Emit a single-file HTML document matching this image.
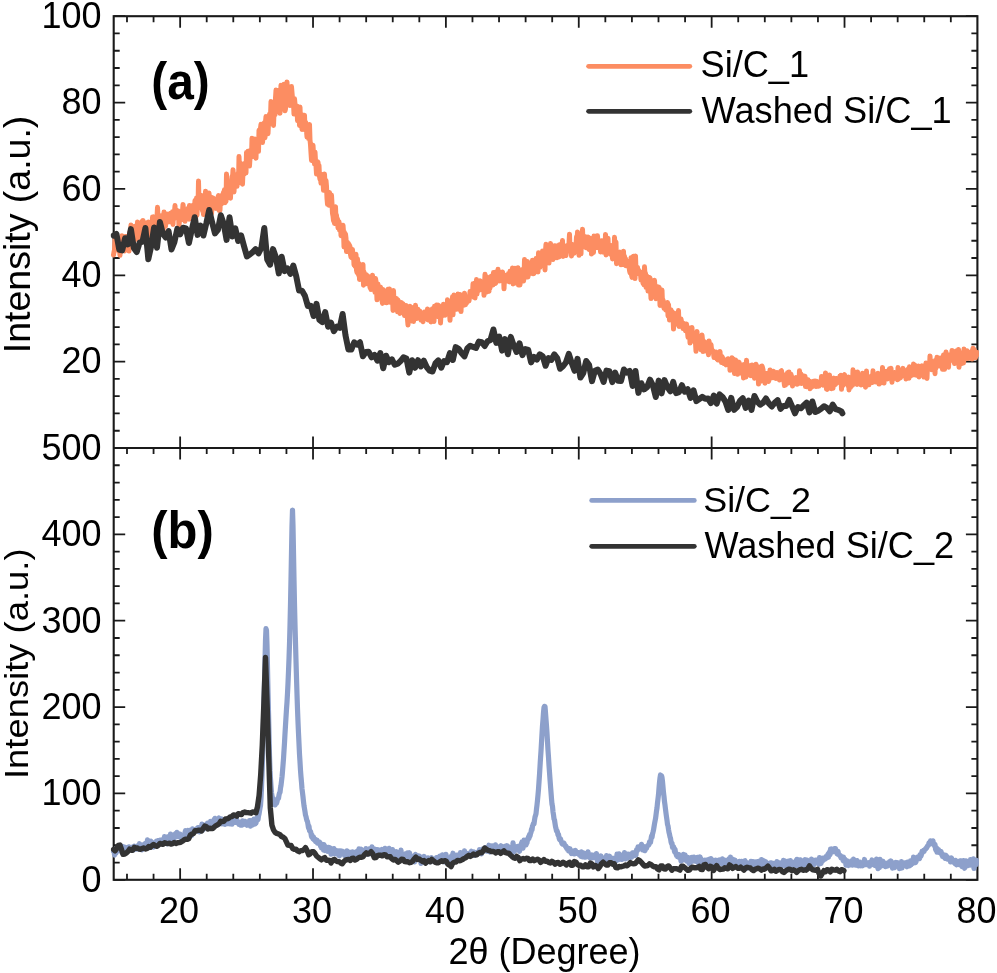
<!DOCTYPE html>
<html lang="en"><head><meta charset="utf-8"><title>XRD patterns of Si/C composites</title>
<style>html,body{margin:0;padding:0;background:#fff;overflow:hidden}svg{display:block}text{font-family:"Liberation Sans",Arial,Helvetica,sans-serif;fill:#000}</style></head><body>
<svg width="997" height="973" viewBox="0 0 997 973">
<rect width="997" height="973" fill="#fff"/>
<defs><clipPath id="c1"><rect x="110.7" y="16.2" width="868.1999999999999" height="431.8"/></clipPath><clipPath id="c2"><rect x="110.7" y="448.0" width="868.1999999999999" height="431.79999999999995"/></clipPath></defs>
<g id="axes" stroke="#1a1a1a" stroke-width="2.1" fill="none" stroke-linecap="butt">
<rect x="113.7" y="16.2" width="863.6999999999999" height="863.5999999999999"/>
<line x1="113.7" y1="448.0" x2="977.4" y2="448.0"/>
<path stroke-width="1.8" d="M126.99 16.20L126.99 22.20 M126.99 879.80L126.99 873.80 M126.99 448.00L126.99 454.00 M153.56 16.20L153.56 22.20 M153.56 879.80L153.56 873.80 M153.56 448.00L153.56 454.00 M180.14 16.20L180.14 27.70 M180.14 879.80L180.14 868.30 M180.14 448.00L180.14 459.50 M180.14 448.00L180.14 436.50 M206.71 16.20L206.71 22.20 M206.71 879.80L206.71 873.80 M206.71 448.00L206.71 454.00 M233.29 16.20L233.29 22.20 M233.29 879.80L233.29 873.80 M233.29 448.00L233.29 454.00 M259.86 16.20L259.86 22.20 M259.86 879.80L259.86 873.80 M259.86 448.00L259.86 454.00 M286.44 16.20L286.44 22.20 M286.44 879.80L286.44 873.80 M286.44 448.00L286.44 454.00 M313.02 16.20L313.02 27.70 M313.02 879.80L313.02 868.30 M313.02 448.00L313.02 459.50 M313.02 448.00L313.02 436.50 M339.59 16.20L339.59 22.20 M339.59 879.80L339.59 873.80 M339.59 448.00L339.59 454.00 M366.17 16.20L366.17 22.20 M366.17 879.80L366.17 873.80 M366.17 448.00L366.17 454.00 M392.74 16.20L392.74 22.20 M392.74 879.80L392.74 873.80 M392.74 448.00L392.74 454.00 M419.32 16.20L419.32 22.20 M419.32 879.80L419.32 873.80 M419.32 448.00L419.32 454.00 M445.89 16.20L445.89 27.70 M445.89 879.80L445.89 868.30 M445.89 448.00L445.89 459.50 M445.89 448.00L445.89 436.50 M472.47 16.20L472.47 22.20 M472.47 879.80L472.47 873.80 M472.47 448.00L472.47 454.00 M499.04 16.20L499.04 22.20 M499.04 879.80L499.04 873.80 M499.04 448.00L499.04 454.00 M525.62 16.20L525.62 22.20 M525.62 879.80L525.62 873.80 M525.62 448.00L525.62 454.00 M552.19 16.20L552.19 22.20 M552.19 879.80L552.19 873.80 M552.19 448.00L552.19 454.00 M578.77 16.20L578.77 27.70 M578.77 879.80L578.77 868.30 M578.77 448.00L578.77 459.50 M578.77 448.00L578.77 436.50 M605.34 16.20L605.34 22.20 M605.34 879.80L605.34 873.80 M605.34 448.00L605.34 454.00 M631.92 16.20L631.92 22.20 M631.92 879.80L631.92 873.80 M631.92 448.00L631.92 454.00 M658.50 16.20L658.50 22.20 M658.50 879.80L658.50 873.80 M658.50 448.00L658.50 454.00 M685.07 16.20L685.07 22.20 M685.07 879.80L685.07 873.80 M685.07 448.00L685.07 454.00 M711.65 16.20L711.65 27.70 M711.65 879.80L711.65 868.30 M711.65 448.00L711.65 459.50 M711.65 448.00L711.65 436.50 M738.22 16.20L738.22 22.20 M738.22 879.80L738.22 873.80 M738.22 448.00L738.22 454.00 M764.80 16.20L764.80 22.20 M764.80 879.80L764.80 873.80 M764.80 448.00L764.80 454.00 M791.37 16.20L791.37 22.20 M791.37 879.80L791.37 873.80 M791.37 448.00L791.37 454.00 M817.95 16.20L817.95 22.20 M817.95 879.80L817.95 873.80 M817.95 448.00L817.95 454.00 M844.52 16.20L844.52 27.70 M844.52 879.80L844.52 868.30 M844.52 448.00L844.52 459.50 M844.52 448.00L844.52 436.50 M871.10 16.20L871.10 22.20 M871.10 879.80L871.10 873.80 M871.10 448.00L871.10 454.00 M897.67 16.20L897.67 22.20 M897.67 879.80L897.67 873.80 M897.67 448.00L897.67 454.00 M924.25 16.20L924.25 22.20 M924.25 879.80L924.25 873.80 M924.25 448.00L924.25 454.00 M950.82 16.20L950.82 22.20 M950.82 879.80L950.82 873.80 M950.82 448.00L950.82 454.00 M113.70 430.73L119.70 430.73 M977.40 430.73L971.40 430.73 M113.70 413.46L119.70 413.46 M977.40 413.46L971.40 413.46 M113.70 396.18L119.70 396.18 M977.40 396.18L971.40 396.18 M113.70 378.91L119.70 378.91 M977.40 378.91L971.40 378.91 M113.70 361.64L125.20 361.64 M977.40 361.64L965.90 361.64 M113.70 344.37L119.70 344.37 M977.40 344.37L971.40 344.37 M113.70 327.10L119.70 327.10 M977.40 327.10L971.40 327.10 M113.70 309.82L119.70 309.82 M977.40 309.82L971.40 309.82 M113.70 292.55L119.70 292.55 M977.40 292.55L971.40 292.55 M113.70 275.28L125.20 275.28 M977.40 275.28L965.90 275.28 M113.70 258.01L119.70 258.01 M977.40 258.01L971.40 258.01 M113.70 240.74L119.70 240.74 M977.40 240.74L971.40 240.74 M113.70 223.46L119.70 223.46 M977.40 223.46L971.40 223.46 M113.70 206.19L119.70 206.19 M977.40 206.19L971.40 206.19 M113.70 188.92L125.20 188.92 M977.40 188.92L965.90 188.92 M113.70 171.65L119.70 171.65 M977.40 171.65L971.40 171.65 M113.70 154.38L119.70 154.38 M977.40 154.38L971.40 154.38 M113.70 137.10L119.70 137.10 M977.40 137.10L971.40 137.10 M113.70 119.83L119.70 119.83 M977.40 119.83L971.40 119.83 M113.70 102.56L125.20 102.56 M977.40 102.56L965.90 102.56 M113.70 85.29L119.70 85.29 M977.40 85.29L971.40 85.29 M113.70 68.02L119.70 68.02 M977.40 68.02L971.40 68.02 M113.70 50.74L119.70 50.74 M977.40 50.74L971.40 50.74 M113.70 33.47L119.70 33.47 M977.40 33.47L971.40 33.47 M113.70 862.53L119.70 862.53 M977.40 862.53L971.40 862.53 M113.70 845.26L119.70 845.26 M977.40 845.26L971.40 845.26 M113.70 827.98L119.70 827.98 M977.40 827.98L971.40 827.98 M113.70 810.71L119.70 810.71 M977.40 810.71L971.40 810.71 M113.70 793.44L125.20 793.44 M977.40 793.44L965.90 793.44 M113.70 776.17L119.70 776.17 M977.40 776.17L971.40 776.17 M113.70 758.90L119.70 758.90 M977.40 758.90L971.40 758.90 M113.70 741.62L119.70 741.62 M977.40 741.62L971.40 741.62 M113.70 724.35L119.70 724.35 M977.40 724.35L971.40 724.35 M113.70 707.08L125.20 707.08 M977.40 707.08L965.90 707.08 M113.70 689.81L119.70 689.81 M977.40 689.81L971.40 689.81 M113.70 672.54L119.70 672.54 M977.40 672.54L971.40 672.54 M113.70 655.26L119.70 655.26 M977.40 655.26L971.40 655.26 M113.70 637.99L119.70 637.99 M977.40 637.99L971.40 637.99 M113.70 620.72L125.20 620.72 M977.40 620.72L965.90 620.72 M113.70 603.45L119.70 603.45 M977.40 603.45L971.40 603.45 M113.70 586.18L119.70 586.18 M977.40 586.18L971.40 586.18 M113.70 568.90L119.70 568.90 M977.40 568.90L971.40 568.90 M113.70 551.63L119.70 551.63 M977.40 551.63L971.40 551.63 M113.70 534.36L125.20 534.36 M977.40 534.36L965.90 534.36 M113.70 517.09L119.70 517.09 M977.40 517.09L971.40 517.09 M113.70 499.82L119.70 499.82 M977.40 499.82L971.40 499.82 M113.70 482.54L119.70 482.54 M977.40 482.54L971.40 482.54 M113.70 465.27L119.70 465.27 M977.40 465.27L971.40 465.27 M113.70 16.20L125.20 16.20 M977.40 16.20L965.90 16.20 M113.70 448.00L125.20 448.00 M977.40 448.00L965.90 448.00 M113.70 879.80L125.20 879.80 M977.40 879.80L965.90 879.80"/>
</g>
<g id="panel-a-curves">
<polyline points="113.5,255.0 114.0,252.1 114.5,249.9 115.0,238.6 115.5,247.1 116.0,246.3 116.5,247.5 117.0,244.2 117.5,247.1 118.0,244.3 118.5,239.3 119.0,251.3 119.5,250.9 120.0,255.3 120.5,245.6 121.0,242.8 121.5,241.6 122.0,235.7 122.5,249.6 123.0,237.5 123.5,236.7 124.0,241.9 124.5,251.1 125.0,243.8 125.5,236.4 126.0,237.8 126.5,245.0 127.0,240.3 127.5,236.5 128.0,239.3 128.5,244.5 129.0,251.1 129.5,232.6 130.0,235.8 130.5,234.5 131.0,225.0 131.5,233.2 132.0,232.3 132.5,244.2 133.0,236.7 133.5,228.0 134.0,240.6 134.5,234.6 135.0,226.3 135.5,232.6 136.0,232.3 136.5,230.4 137.0,235.2 137.5,221.9 138.0,232.9 138.5,240.0 139.0,238.8 139.5,239.9 140.0,239.7 140.5,241.5 141.0,226.2 141.5,237.2 142.0,221.4 142.5,228.3 143.0,220.4 143.5,237.2 144.0,238.5 144.5,229.4 145.0,240.4 145.5,226.0 146.0,230.4 146.5,230.1 147.0,222.7 147.5,231.1 148.0,239.4 148.5,221.9 149.0,232.7 149.5,226.3 150.0,237.1 150.5,229.3 151.0,230.1 151.5,229.6 152.0,227.0 152.5,217.1 153.0,233.0 153.5,216.7 154.0,225.7 154.5,227.6 155.0,218.9 155.5,224.4 156.0,230.1 156.5,222.9 157.0,217.6 157.5,207.3 158.0,216.6 158.5,218.6 159.0,218.8 159.5,216.0 160.0,223.6 160.5,217.8 161.0,220.3 161.5,224.7 162.0,215.5 162.5,218.5 163.0,232.7 163.5,225.0 164.0,212.1 164.5,219.0 165.0,222.6 165.5,226.3 166.0,219.7 166.5,215.5 167.0,214.2 167.5,222.1 168.0,219.9 168.5,214.9 169.0,216.6 169.5,215.1 170.0,221.7 170.5,213.2 171.0,219.9 171.5,221.9 172.0,219.6 172.5,211.7 173.0,224.4 173.5,212.3 174.0,218.7 174.5,211.6 175.0,205.6 175.5,217.1 176.0,217.3 176.5,215.0 177.0,217.0 177.5,211.5 178.0,210.8 178.5,214.1 179.0,226.3 179.5,219.7 180.0,211.8 180.5,218.0 181.0,211.8 181.5,211.9 182.0,219.6 182.5,211.3 183.0,204.4 183.5,208.9 184.0,214.7 184.5,214.8 185.0,221.3 185.5,209.6 186.0,218.0 186.5,216.1 187.0,212.6 187.5,218.3 188.0,216.1 188.5,207.9 189.0,219.2 189.5,205.4 190.0,212.9 190.5,212.3 191.0,214.5 191.5,207.3 192.0,210.9 192.5,209.8 193.0,216.1 193.5,204.9 194.0,209.5 194.5,207.0 195.0,200.4 195.5,223.2 196.0,206.9 196.5,198.1 197.0,215.2 197.5,200.1 198.0,208.5 198.5,181.0 199.0,201.9 199.5,203.0 200.0,202.1 200.5,204.4 201.0,195.3 201.5,197.4 202.0,203.8 202.5,210.7 203.0,208.1 203.5,214.5 204.0,208.1 204.5,200.7 205.0,202.9 205.5,191.3 206.0,197.5 206.5,197.0 207.0,204.6 207.5,206.7 208.0,199.2 208.5,198.9 209.0,192.9 209.5,201.3 210.0,203.4 210.5,204.5 211.0,196.9 211.5,213.5 212.0,208.5 212.5,200.6 213.0,197.9 213.5,199.0 214.0,201.7 214.5,200.5 215.0,203.4 215.5,205.0 216.0,208.4 216.5,206.9 217.0,199.1 217.5,201.9 218.0,197.1 218.5,195.6 219.0,210.5 219.5,195.9 220.0,210.5 220.5,196.1 221.0,199.4 221.5,204.1 222.0,197.2 222.5,198.9 223.0,194.4 223.5,192.3 224.0,193.4 224.5,189.7 225.0,202.7 225.5,190.9 226.0,201.5 226.5,174.0 227.0,189.1 227.5,191.5 228.0,185.2 228.5,192.8 229.0,188.9 229.5,182.3 230.0,185.7 230.5,198.2 231.0,182.7 231.5,182.1 232.0,176.6 232.5,179.4 233.0,169.8 233.5,175.9 234.0,191.9 234.5,182.6 235.0,179.3 235.5,181.7 236.0,186.1 236.5,177.5 237.0,186.3 237.5,179.5 238.0,173.4 238.5,182.7 239.0,156.5 239.5,167.3 240.0,172.1 240.5,164.2 241.0,168.4 241.5,164.9 242.0,164.2 242.5,184.2 243.0,171.2 243.5,166.2 244.0,174.2 244.5,163.6 245.0,170.0 245.5,165.7 246.0,173.0 246.5,152.6 247.0,165.6 247.5,160.5 248.0,151.3 248.5,164.5 249.0,151.0 249.5,166.0 250.0,157.8 250.5,157.9 251.0,152.9 251.5,157.1 252.0,138.2 252.5,149.7 253.0,144.2 253.5,149.1 254.0,146.1 254.5,149.5 255.0,139.1 255.5,155.8 256.0,158.1 256.5,140.7 257.0,141.2 257.5,142.4 258.0,148.0 258.5,151.4 259.0,130.2 259.5,133.3 260.0,129.6 260.5,128.4 261.0,124.2 261.5,136.6 262.0,125.7 262.5,142.6 263.0,137.8 263.5,124.1 264.0,123.2 264.5,125.2 265.0,137.7 265.5,121.8 266.0,116.6 266.5,125.3 267.0,127.2 267.5,119.4 268.0,133.7 268.5,123.5 269.0,124.0 269.5,114.2 270.0,118.7 270.5,116.9 271.0,101.6 271.5,117.9 272.0,102.7 272.5,113.6 273.0,102.7 273.5,125.4 274.0,112.8 274.5,115.3 275.0,114.6 275.5,98.0 276.0,90.1 276.5,102.1 277.0,109.3 277.5,102.8 278.0,106.9 278.5,107.5 279.0,90.3 279.5,102.1 280.0,113.3 280.5,95.5 281.0,85.2 281.5,97.5 282.0,95.8 282.5,101.9 283.0,93.0 283.5,99.9 284.0,84.2 284.5,105.6 285.0,110.8 285.5,108.9 286.0,89.6 286.5,102.2 287.0,81.9 287.5,101.6 288.0,99.1 288.5,92.5 289.0,101.5 289.5,100.0 290.0,105.5 290.5,100.0 291.0,101.1 291.5,86.6 292.0,92.7 292.5,98.2 293.0,104.3 293.5,103.0 294.0,114.1 294.5,98.7 295.0,104.1 295.5,108.5 296.0,106.3 296.5,112.3 297.0,106.1 297.5,120.7 298.0,109.9 298.5,120.8 299.0,114.1 299.5,125.5 300.0,107.1 300.5,121.2 301.0,116.0 301.5,121.7 302.0,129.4 302.5,115.0 303.0,115.1 303.5,118.5 304.0,128.2 304.5,115.2 305.0,129.8 305.5,121.9 306.0,124.2 306.5,130.7 307.0,137.0 307.5,131.8 308.0,134.0 308.5,138.4 309.0,138.2 309.5,124.4 310.0,140.0 310.5,144.8 311.0,152.8 311.5,160.4 312.0,152.9 312.5,150.5 313.0,145.2 313.5,153.5 314.0,159.5 314.5,164.1 315.0,151.9 315.5,160.6 316.0,165.8 316.5,174.0 317.0,165.3 317.5,161.7 318.0,162.3 318.5,165.9 319.0,165.6 319.5,176.4 320.0,179.4 320.5,178.7 321.0,183.1 321.5,174.2 322.0,180.8 322.5,177.5 323.0,181.6 323.5,190.3 324.0,184.0 324.5,174.1 325.0,185.4 325.5,184.0 326.0,180.5 326.5,186.3 327.0,198.4 327.5,204.2 328.0,192.3 328.5,202.8 329.0,205.2 329.5,192.4 330.0,200.5 330.5,201.8 331.0,204.4 331.5,195.1 332.0,203.9 332.5,213.6 333.0,216.1 333.5,220.7 334.0,209.0 334.5,223.4 335.0,217.5 335.5,206.7 336.0,220.5 336.5,215.1 337.0,221.5 337.5,219.0 338.0,227.9 338.5,223.6 339.0,221.7 339.5,230.2 340.0,227.3 340.5,224.7 341.0,235.7 341.5,227.2 342.0,227.2 342.5,229.1 343.0,225.2 343.5,231.8 344.0,246.9 344.5,232.5 345.0,239.1 345.5,234.1 346.0,238.3 346.5,251.6 347.0,249.4 347.5,242.2 348.0,246.9 348.5,243.5 349.0,244.9 349.5,245.3 350.0,246.6 350.5,254.5 351.0,257.1 351.5,257.6 352.0,255.0 352.5,249.6 353.0,257.7 353.5,254.1 354.0,265.0 354.5,264.2 355.0,266.2 355.5,261.3 356.0,254.3 356.5,270.2 357.0,272.5 357.5,258.8 358.0,268.4 358.5,274.9 359.0,263.5 359.5,279.5 360.0,268.9 360.5,265.7 361.0,279.5 361.5,274.5 362.0,270.1 362.5,278.9 363.0,264.6 363.5,285.2 364.0,271.9 364.5,278.3 365.0,275.3 365.5,280.3 366.0,283.3 366.5,274.8 367.0,283.8 367.5,278.7 368.0,277.2 368.5,280.1 369.0,276.6 369.5,278.1 370.0,287.7 370.5,282.5 371.0,289.6 371.5,286.4 372.0,279.3 372.5,275.2 373.0,281.9 373.5,287.2 374.0,286.3 374.5,282.3 375.0,292.3 375.5,278.4 376.0,281.3 376.5,288.8 377.0,299.8 377.5,291.0 378.0,284.1 378.5,292.7 379.0,293.5 379.5,295.2 380.0,288.7 380.5,287.1 381.0,292.2 381.5,294.1 382.0,300.5 382.5,303.4 383.0,289.4 383.5,290.9 384.0,293.6 384.5,293.1 385.0,297.3 385.5,297.7 386.0,296.9 386.5,302.8 387.0,295.6 387.5,291.6 388.0,289.4 388.5,292.5 389.0,292.8 389.5,289.0 390.0,302.3 390.5,300.3 391.0,297.6 391.5,295.7 392.0,292.6 392.5,296.3 393.0,310.5 393.5,290.6 394.0,302.8 394.5,306.1 395.0,303.5 395.5,301.6 396.0,307.4 396.5,298.5 397.0,307.1 397.5,311.8 398.0,300.0 398.5,301.5 399.0,306.7 399.5,311.3 400.0,313.4 400.5,310.6 401.0,304.4 401.5,302.6 402.0,309.6 402.5,310.8 403.0,303.8 403.5,309.9 404.0,311.6 404.5,315.4 405.0,305.8 405.5,313.7 406.0,305.6 406.5,309.5 407.0,311.5 407.5,319.5 408.0,324.9 408.5,313.7 409.0,315.1 409.5,317.7 410.0,306.3 410.5,316.7 411.0,307.0 411.5,321.0 412.0,320.2 412.5,315.7 413.0,309.4 413.5,321.5 414.0,314.7 414.5,314.0 415.0,316.4 415.5,305.3 416.0,315.7 416.5,318.5 417.0,315.4 417.5,314.5 418.0,309.2 418.5,317.0 419.0,314.8 419.5,313.9 420.0,311.2 420.5,318.1 421.0,320.0 421.5,315.9 422.0,318.3 422.5,320.4 423.0,321.7 423.5,315.1 424.0,313.0 424.5,312.0 425.0,314.0 425.5,316.6 426.0,318.5 426.5,311.9 427.0,314.6 427.5,309.0 428.0,320.0 428.5,311.9 429.0,315.5 429.5,310.2 430.0,312.2 430.5,310.3 431.0,321.9 431.5,315.3 432.0,312.7 432.5,308.8 433.0,310.4 433.5,316.1 434.0,321.4 434.5,306.3 435.0,308.7 435.5,312.2 436.0,310.0 436.5,304.9 437.0,313.0 437.5,316.4 438.0,305.0 438.5,313.5 439.0,317.0 439.5,316.9 440.0,309.9 440.5,323.0 441.0,314.3 441.5,307.4 442.0,316.0 442.5,305.4 443.0,315.1 443.5,304.3 444.0,314.1 444.5,307.1 445.0,315.3 445.5,313.1 446.0,311.4 446.5,309.3 447.0,314.1 447.5,299.7 448.0,310.4 448.5,310.1 449.0,310.7 449.5,311.8 450.0,320.3 450.5,307.9 451.0,311.1 451.5,307.7 452.0,314.6 452.5,296.7 453.0,314.8 453.5,302.9 454.0,295.0 454.5,300.6 455.0,304.9 455.5,306.6 456.0,305.2 456.5,309.3 457.0,304.9 457.5,304.6 458.0,294.0 458.5,306.9 459.0,309.3 459.5,301.9 460.0,294.5 460.5,296.9 461.0,311.6 461.5,300.0 462.0,299.4 462.5,298.3 463.0,305.5 463.5,298.7 464.0,296.9 464.5,293.2 465.0,299.7 465.5,304.8 466.0,298.5 466.5,303.1 467.0,299.0 467.5,298.3 468.0,297.8 468.5,296.5 469.0,300.9 469.5,297.6 470.0,291.6 470.5,294.7 471.0,293.0 471.5,295.4 472.0,293.3 472.5,294.0 473.0,283.8 473.5,292.9 474.0,297.2 474.5,283.2 475.0,298.0 475.5,291.0 476.0,288.1 476.5,279.6 477.0,294.1 477.5,283.2 478.0,285.3 478.5,290.5 479.0,282.1 479.5,282.0 480.0,280.9 480.5,286.0 481.0,289.4 481.5,288.2 482.0,288.0 482.5,283.8 483.0,286.1 483.5,281.6 484.0,295.3 484.5,285.7 485.0,274.3 485.5,278.7 486.0,292.3 486.5,276.7 487.0,281.3 487.5,285.4 488.0,277.4 488.5,288.5 489.0,291.4 489.5,278.1 490.0,288.1 490.5,277.3 491.0,276.5 491.5,282.7 492.0,282.4 492.5,277.8 493.0,285.0 493.5,272.6 494.0,275.5 494.5,274.1 495.0,283.4 495.5,283.4 496.0,282.4 496.5,271.8 497.0,279.0 497.5,280.5 498.0,269.3 498.5,273.3 499.0,280.8 499.5,280.9 500.0,278.4 500.5,279.7 501.0,278.5 501.5,277.4 502.0,276.0 502.5,271.9 503.0,275.2 503.5,274.4 504.0,288.8 504.5,277.9 505.0,276.5 505.5,275.4 506.0,276.1 506.5,275.3 507.0,279.7 507.5,276.8 508.0,281.3 508.5,273.4 509.0,279.0 509.5,281.9 510.0,271.3 510.5,278.3 511.0,278.8 511.5,275.8 512.0,275.1 512.5,268.0 513.0,283.9 513.5,273.0 514.0,271.4 514.5,281.4 515.0,268.3 515.5,283.1 516.0,280.3 516.5,281.1 517.0,277.0 517.5,271.3 518.0,267.7 518.5,285.1 519.0,274.7 519.5,274.2 520.0,285.0 520.5,273.0 521.0,274.8 521.5,274.5 522.0,274.6 522.5,269.5 523.0,271.6 523.5,281.0 524.0,277.8 524.5,259.5 525.0,262.5 525.5,274.3 526.0,271.5 526.5,269.7 527.0,276.9 527.5,261.4 528.0,276.9 528.5,270.8 529.0,272.7 529.5,270.8 530.0,273.6 530.5,267.3 531.0,265.3 531.5,272.0 532.0,268.3 532.5,260.2 533.0,273.8 533.5,272.6 534.0,273.4 534.5,265.6 535.0,266.6 535.5,262.2 536.0,258.5 536.5,263.7 537.0,263.8 537.5,258.8 538.0,271.9 538.5,252.7 539.0,256.6 539.5,257.0 540.0,267.3 540.5,258.4 541.0,257.6 541.5,254.2 542.0,254.4 542.5,251.1 543.0,263.4 543.5,260.7 544.0,262.4 544.5,253.0 545.0,270.0 545.5,250.4 546.0,244.2 546.5,253.5 547.0,255.5 547.5,258.6 548.0,248.6 548.5,257.2 549.0,263.1 549.5,248.7 550.0,249.0 550.5,243.4 551.0,253.9 551.5,257.1 552.0,256.4 552.5,256.5 553.0,259.5 553.5,252.2 554.0,256.5 554.5,245.7 555.0,246.4 555.5,252.0 556.0,245.9 556.5,253.4 557.0,257.7 557.5,252.1 558.0,245.6 558.5,245.4 559.0,257.0 559.5,244.8 560.0,249.6 560.5,247.5 561.0,249.1 561.5,254.8 562.0,245.5 562.5,240.6 563.0,256.4 563.5,249.5 564.0,252.2 564.5,247.9 565.0,252.3 565.5,254.9 566.0,255.4 566.5,246.1 567.0,245.6 567.5,249.7 568.0,248.6 568.5,250.5 569.0,243.3 569.5,234.2 570.0,249.6 570.5,251.4 571.0,250.5 571.5,256.1 572.0,251.5 572.5,244.4 573.0,252.0 573.5,245.9 574.0,253.2 574.5,247.4 575.0,248.4 575.5,246.9 576.0,245.7 576.5,236.8 577.0,245.2 577.5,231.9 578.0,247.2 578.5,249.7 579.0,255.3 579.5,245.6 580.0,239.2 580.5,234.1 581.0,253.8 581.5,234.5 582.0,247.5 582.5,229.2 583.0,241.8 583.5,245.9 584.0,243.8 584.5,241.8 585.0,237.4 585.5,236.9 586.0,247.7 586.5,244.5 587.0,241.2 587.5,243.3 588.0,237.0 588.5,248.0 589.0,249.4 589.5,238.0 590.0,243.0 590.5,248.4 591.0,239.0 591.5,254.1 592.0,251.3 592.5,241.3 593.0,248.4 593.5,252.4 594.0,236.1 594.5,246.7 595.0,242.5 595.5,242.2 596.0,247.5 596.5,240.9 597.0,235.8 597.5,235.8 598.0,243.8 598.5,247.6 599.0,244.0 599.5,243.5 600.0,244.3 600.5,251.9 601.0,247.8 601.5,240.8 602.0,243.5 602.5,252.1 603.0,242.3 603.5,243.5 604.0,245.8 604.5,240.2 605.0,251.4 605.5,234.4 606.0,255.0 606.5,244.7 607.0,240.3 607.5,249.1 608.0,238.2 608.5,251.1 609.0,252.6 609.5,245.3 610.0,246.6 610.5,254.3 611.0,245.6 611.5,249.7 612.0,251.8 612.5,258.9 613.0,247.7 613.5,251.0 614.0,257.4 614.5,237.3 615.0,250.3 615.5,241.6 616.0,242.4 616.5,263.7 617.0,254.4 617.5,261.9 618.0,252.7 618.5,257.4 619.0,252.4 619.5,252.2 620.0,255.2 620.5,256.7 621.0,264.8 621.5,255.7 622.0,259.3 622.5,256.2 623.0,258.8 623.5,251.2 624.0,264.7 624.5,256.3 625.0,259.8 625.5,258.8 626.0,265.8 626.5,263.7 627.0,261.3 627.5,262.6 628.0,264.0 628.5,266.7 629.0,265.8 629.5,270.4 630.0,272.7 630.5,267.7 631.0,257.7 631.5,274.8 632.0,277.4 632.5,264.3 633.0,264.5 633.5,256.2 634.0,271.9 634.5,262.9 635.0,278.6 635.5,256.0 636.0,270.2 636.5,274.0 637.0,268.8 637.5,267.3 638.0,273.5 638.5,270.0 639.0,271.6 639.5,273.8 640.0,271.7 640.5,274.1 641.0,280.1 641.5,274.6 642.0,278.2 642.5,273.9 643.0,283.4 643.5,272.4 644.0,284.8 644.5,266.8 645.0,276.2 645.5,273.3 646.0,287.4 646.5,284.0 647.0,276.3 647.5,280.6 648.0,291.1 648.5,284.2 649.0,287.9 649.5,277.6 650.0,278.1 650.5,289.2 651.0,298.6 651.5,284.4 652.0,290.7 652.5,283.2 653.0,295.0 653.5,286.7 654.0,287.2 654.5,280.3 655.0,288.4 655.5,292.0 656.0,298.7 656.5,286.2 657.0,297.8 657.5,291.8 658.0,292.8 658.5,290.2 659.0,287.1 659.5,290.4 660.0,305.5 660.5,292.1 661.0,296.7 661.5,305.3 662.0,290.0 662.5,303.6 663.0,299.7 663.5,304.0 664.0,308.2 664.5,303.9 665.0,304.5 665.5,309.8 666.0,310.1 666.5,304.1 667.0,307.4 667.5,302.4 668.0,316.0 668.5,304.4 669.0,311.8 669.5,320.1 670.0,316.1 670.5,311.4 671.0,309.9 671.5,311.1 672.0,319.1 672.5,317.0 673.0,315.9 673.5,329.1 674.0,313.1 674.5,315.4 675.0,316.5 675.5,319.9 676.0,320.9 676.5,318.7 677.0,324.1 677.5,323.7 678.0,320.3 678.5,310.6 679.0,326.5 679.5,318.8 680.0,320.8 680.5,323.7 681.0,319.1 681.5,321.6 682.0,326.2 682.5,324.8 683.0,328.4 683.5,323.5 684.0,326.9 684.5,323.6 685.0,327.7 685.5,330.8 686.0,328.9 686.5,323.9 687.0,330.2 687.5,332.2 688.0,337.2 688.5,332.3 689.0,331.1 689.5,328.1 690.0,343.1 690.5,330.1 691.0,329.8 691.5,334.7 692.0,327.5 692.5,341.1 693.0,337.5 693.5,339.4 694.0,333.1 694.5,335.7 695.0,342.3 695.5,342.9 696.0,351.3 696.5,344.6 697.0,331.5 697.5,340.8 698.0,339.2 698.5,346.1 699.0,341.2 699.5,344.2 700.0,340.9 700.5,345.5 701.0,349.7 701.5,340.8 702.0,334.9 702.5,339.7 703.0,351.6 703.5,346.1 704.0,344.2 704.5,341.6 705.0,350.9 705.5,347.9 706.0,346.6 706.5,345.1 707.0,347.2 707.5,346.9 708.0,351.2 708.5,354.7 709.0,341.0 709.5,343.6 710.0,350.0 710.5,351.2 711.0,344.5 711.5,348.9 712.0,350.3 712.5,350.5 713.0,350.9 713.5,352.9 714.0,357.5 714.5,357.2 715.0,357.0 715.5,356.0 716.0,352.1 716.5,353.5 717.0,358.9 717.5,356.8 718.0,360.0 718.5,358.1 719.0,357.5 719.5,359.5 720.0,351.4 720.5,357.6 721.0,356.1 721.5,362.5 722.0,356.4 722.5,360.5 723.0,358.1 723.5,362.2 724.0,363.5 724.5,359.9 725.0,361.5 725.5,362.1 726.0,364.9 726.5,360.6 727.0,362.4 727.5,360.7 728.0,358.7 728.5,363.7 729.0,365.0 729.5,360.1 730.0,370.3 730.5,360.9 731.0,367.3 731.5,366.0 732.0,357.7 732.5,364.8 733.0,358.7 733.5,364.9 734.0,368.4 734.5,373.4 735.0,369.3 735.5,360.0 736.0,365.0 736.5,372.8 737.0,367.6 737.5,374.3 738.0,364.3 738.5,365.2 739.0,362.1 739.5,366.3 740.0,373.1 740.5,364.4 741.0,371.8 741.5,370.4 742.0,372.0 742.5,367.9 743.0,369.2 743.5,378.0 744.0,364.4 744.5,372.7 745.0,376.0 745.5,371.8 746.0,376.9 746.5,360.2 747.0,369.3 747.5,366.0 748.0,369.2 748.5,370.6 749.0,373.2 749.5,368.0 750.0,375.1 750.5,365.4 751.0,375.8 751.5,371.1 752.0,365.1 752.5,365.3 753.0,365.4 753.5,368.7 754.0,373.3 754.5,378.2 755.0,376.2 755.5,367.9 756.0,364.2 756.5,372.3 757.0,367.9 757.5,373.0 758.0,371.1 758.5,384.1 759.0,367.1 759.5,375.3 760.0,381.5 760.5,372.5 761.0,371.1 761.5,380.9 762.0,365.9 762.5,367.5 763.0,369.5 763.5,376.0 764.0,377.5 764.5,374.0 765.0,383.2 765.5,373.8 766.0,374.6 766.5,373.5 767.0,379.6 767.5,374.8 768.0,373.2 768.5,381.6 769.0,380.0 769.5,378.9 770.0,369.9 770.5,370.7 771.0,374.1 771.5,374.1 772.0,373.4 772.5,374.3 773.0,377.8 773.5,371.2 774.0,376.3 774.5,373.8 775.0,373.5 775.5,374.3 776.0,378.4 776.5,376.6 777.0,372.5 777.5,377.0 778.0,376.2 778.5,377.4 779.0,374.8 779.5,379.9 780.0,377.5 780.5,371.6 781.0,371.1 781.5,370.7 782.0,378.0 782.5,373.7 783.0,375.2 783.5,376.4 784.0,381.7 784.5,385.6 785.0,376.6 785.5,385.0 786.0,379.4 786.5,382.2 787.0,376.4 787.5,372.8 788.0,379.7 788.5,383.0 789.0,371.9 789.5,377.9 790.0,379.1 790.5,380.7 791.0,374.3 791.5,376.5 792.0,382.4 792.5,386.0 793.0,379.4 793.5,383.0 794.0,380.0 794.5,381.1 795.0,378.0 795.5,378.8 796.0,377.5 796.5,380.3 797.0,384.3 797.5,380.9 798.0,382.8 798.5,377.9 799.0,383.3 799.5,370.7 800.0,375.3 800.5,379.7 801.0,374.1 801.5,383.5 802.0,382.3 802.5,378.1 803.0,382.2 803.5,376.1 804.0,378.6 804.5,380.8 805.0,376.2 805.5,386.6 806.0,380.2 806.5,386.8 807.0,382.4 807.5,384.3 808.0,379.7 808.5,382.1 809.0,381.8 809.5,384.4 810.0,388.8 810.5,381.5 811.0,383.0 811.5,385.1 812.0,387.0 812.5,383.3 813.0,382.2 813.5,381.4 814.0,383.7 814.5,384.6 815.0,381.0 815.5,382.4 816.0,386.5 816.5,383.5 817.0,381.4 817.5,386.2 818.0,386.2 818.5,385.8 819.0,386.0 819.5,381.9 820.0,384.1 820.5,384.5 821.0,383.7 821.5,376.5 822.0,383.1 822.5,384.5 823.0,385.0 823.5,381.9 824.0,383.1 824.5,376.0 825.0,377.2 825.5,372.9 826.0,381.9 826.5,389.0 827.0,389.4 827.5,378.3 828.0,385.1 828.5,387.4 829.0,381.3 829.5,374.9 830.0,387.9 830.5,381.0 831.0,380.8 831.5,388.8 832.0,384.0 832.5,385.4 833.0,388.2 833.5,381.4 834.0,378.1 834.5,384.8 835.0,381.7 835.5,384.5 836.0,383.1 836.5,378.6 837.0,381.5 837.5,380.0 838.0,380.3 838.5,381.0 839.0,382.4 839.5,381.8 840.0,376.0 840.5,383.3 841.0,375.2 841.5,389.3 842.0,377.6 842.5,380.3 843.0,385.6 843.5,379.6 844.0,375.4 844.5,374.7 845.0,381.3 845.5,381.8 846.0,383.4 846.5,381.2 847.0,378.2 847.5,381.9 848.0,385.7 848.5,377.0 849.0,390.0 849.5,378.5 850.0,384.9 850.5,387.4 851.0,383.6 851.5,381.3 852.0,382.9 852.5,385.3 853.0,369.8 853.5,381.9 854.0,378.5 854.5,377.4 855.0,380.5 855.5,380.8 856.0,382.0 856.5,377.8 857.0,384.4 857.5,371.9 858.0,376.2 858.5,375.3 859.0,380.4 859.5,378.0 860.0,382.0 860.5,376.9 861.0,384.9 861.5,382.8 862.0,377.9 862.5,373.3 863.0,375.3 863.5,373.9 864.0,384.7 864.5,382.8 865.0,375.0 865.5,387.2 866.0,378.7 866.5,371.1 867.0,384.1 867.5,385.0 868.0,379.9 868.5,376.4 869.0,384.7 869.5,377.9 870.0,379.8 870.5,381.6 871.0,380.9 871.5,377.9 872.0,375.6 872.5,382.5 873.0,370.8 873.5,380.6 874.0,380.3 874.5,381.2 875.0,377.6 875.5,379.7 876.0,381.9 876.5,374.5 877.0,378.7 877.5,379.8 878.0,373.3 878.5,374.4 879.0,384.1 879.5,381.9 880.0,374.7 880.5,380.3 881.0,379.0 881.5,382.7 882.0,381.6 882.5,367.4 883.0,375.6 883.5,382.1 884.0,383.0 884.5,374.0 885.0,371.4 885.5,377.2 886.0,373.6 886.5,376.0 887.0,371.3 887.5,378.9 888.0,378.0 888.5,377.5 889.0,371.3 889.5,368.8 890.0,370.4 890.5,377.4 891.0,368.2 891.5,377.9 892.0,382.2 892.5,372.6 893.0,374.3 893.5,378.9 894.0,378.5 894.5,372.4 895.0,374.1 895.5,375.2 896.0,373.6 896.5,376.9 897.0,375.8 897.5,379.7 898.0,367.6 898.5,379.0 899.0,377.5 899.5,373.7 900.0,375.8 900.5,377.9 901.0,375.2 901.5,372.9 902.0,375.0 902.5,371.0 903.0,368.4 903.5,370.1 904.0,370.4 904.5,374.2 905.0,376.5 905.5,374.2 906.0,379.0 906.5,372.7 907.0,370.4 907.5,370.0 908.0,369.2 908.5,371.5 909.0,378.2 909.5,366.7 910.0,374.7 910.5,372.3 911.0,375.7 911.5,370.3 912.0,375.1 912.5,370.0 913.0,374.5 913.5,364.0 914.0,373.8 914.5,374.7 915.0,365.2 915.5,374.9 916.0,366.8 916.5,375.3 917.0,371.2 917.5,373.8 918.0,372.5 918.5,366.0 919.0,377.0 919.5,375.5 920.0,366.4 920.5,372.7 921.0,372.1 921.5,367.4 922.0,365.8 922.5,375.1 923.0,368.1 923.5,373.2 924.0,377.1 924.5,371.2 925.0,365.4 925.5,372.8 926.0,363.0 926.5,364.7 927.0,378.5 927.5,364.7 928.0,369.2 928.5,363.2 929.0,366.8 929.5,367.8 930.0,355.9 930.5,363.8 931.0,369.0 931.5,369.6 932.0,367.2 932.5,361.6 933.0,366.9 933.5,363.0 934.0,361.6 934.5,364.5 935.0,373.7 935.5,360.3 936.0,368.2 936.5,364.7 937.0,357.2 937.5,359.4 938.0,362.3 938.5,360.8 939.0,363.7 939.5,358.3 940.0,358.1 940.5,366.3 941.0,361.9 941.5,358.3 942.0,361.7 942.5,369.3 943.0,359.0 943.5,355.1 944.0,365.1 944.5,369.3 945.0,366.2 945.5,355.3 946.0,352.0 946.5,365.9 947.0,359.7 947.5,362.5 948.0,359.5 948.5,367.2 949.0,360.3 949.5,358.6 950.0,360.4 950.5,354.6 951.0,360.3 951.5,359.1 952.0,350.4 952.5,354.4 953.0,353.8 953.5,352.4 954.0,360.4 954.5,363.6 955.0,360.1 955.5,352.3 956.0,351.0 956.5,361.7 957.0,357.0 957.5,357.8 958.0,352.6 958.5,349.4 959.0,367.3 959.5,355.2 960.0,356.8 960.5,352.7 961.0,363.9 961.5,355.8 962.0,356.6 962.5,357.3 963.0,357.0 963.5,363.0 964.0,349.1 964.5,359.4 965.0,354.0 965.5,354.8 966.0,353.8 966.5,358.1 967.0,350.8 967.5,353.8 968.0,358.4 968.5,353.5 969.0,353.8 969.5,357.4 970.0,356.0 970.5,354.1 971.0,355.7 971.5,351.6 972.0,359.0 972.5,350.5 973.0,348.2 973.5,356.8 974.0,349.3 974.5,350.7 975.0,353.8 975.5,357.7 976.0,352.5 976.5,352.6 977.0,352.5 977.5,354.5" fill="none" stroke="#fc8d62" stroke-width="5.0" stroke-linejoin="round" stroke-linecap="round" clip-path="url(#c1)"/>
<polyline points="113.5,235.6 116.4,233.9 119.3,249.8 122.2,250.4 125.1,238.2 128.0,244.4 130.9,229.1 133.8,247.9 136.7,252.0 139.6,242.7 142.5,241.7 145.4,228.0 148.3,259.2 151.2,246.2 154.1,227.5 157.0,247.7 159.9,222.1 162.8,233.6 165.7,237.6 168.6,231.1 171.5,249.5 174.4,242.1 177.3,228.9 180.2,234.3 183.1,227.8 186.0,228.4 188.9,243.0 191.8,229.7 194.7,217.2 197.6,234.9 200.5,225.7 203.4,235.5 206.3,223.4 209.2,210.0 212.1,222.2 215.0,233.4 217.9,229.8 220.8,215.3 223.7,223.7 226.6,239.9 229.5,217.3 232.4,236.6 235.3,228.4 238.2,241.0 241.1,235.3 244.0,246.1 246.9,256.4 249.8,254.5 252.7,252.1 255.6,249.1 258.5,253.4 261.4,247.6 264.3,228.0 267.2,259.5 270.1,264.7 273.0,249.1 275.9,257.3 278.8,273.4 281.7,256.8 284.6,271.1 287.5,268.5 290.4,273.8 293.3,265.5 296.2,276.1 299.1,290.6 302.0,290.7 304.9,295.7 307.8,305.9 310.7,305.7 313.6,316.0 316.5,303.8 319.4,319.9 322.3,322.1 325.2,312.1 328.1,326.7 331.0,322.7 333.9,331.2 336.8,326.5 339.7,327.8 342.6,314.0 345.5,335.4 348.4,349.4 351.3,349.6 354.2,342.3 357.1,344.6 360.0,342.3 362.9,356.3 365.8,352.1 368.7,351.8 371.6,357.3 374.5,354.9 377.4,360.7 380.3,353.0 383.2,368.3 386.1,355.7 389.0,362.2 391.9,359.4 394.8,364.8 397.7,363.7 400.6,361.1 403.5,357.3 406.4,358.5 409.3,372.6 412.2,360.2 415.1,367.8 418.0,360.2 420.9,366.5 423.8,360.7 426.7,367.1 429.6,370.7 432.5,371.5 435.4,363.4 438.3,360.4 441.2,367.7 444.1,361.0 447.0,362.2 449.9,353.2 452.8,360.0 455.7,347.1 458.6,348.8 461.5,353.0 464.4,356.4 467.3,348.4 470.2,345.7 473.1,346.9 476.0,348.0 478.9,341.6 481.8,342.2 484.7,346.0 487.6,341.2 490.5,339.9 493.4,329.5 496.3,342.9 499.2,336.5 502.1,350.6 505.0,339.1 507.9,354.2 510.8,336.9 513.7,345.4 516.6,352.0 519.5,343.3 522.4,355.1 525.3,349.0 528.2,349.9 531.1,362.4 534.0,356.8 536.9,359.6 539.8,354.3 542.7,356.2 545.6,365.8 548.5,358.0 551.4,359.9 554.3,354.3 557.2,358.0 560.1,368.8 563.0,366.3 565.9,362.5 568.8,353.9 571.7,363.0 574.6,370.8 577.5,358.8 580.4,377.5 583.3,373.0 586.2,361.0 589.1,365.1 592.0,381.1 594.9,370.7 597.8,369.5 600.7,374.3 603.6,382.0 606.5,370.6 609.4,371.2 612.3,382.1 615.2,372.7 618.1,380.8 621.0,381.1 623.9,369.5 626.8,372.6 629.7,371.0 632.6,386.0 635.5,371.0 638.4,392.9 641.3,383.2 644.2,389.4 647.1,387.1 650.0,379.7 652.9,385.4 655.8,397.0 658.7,380.6 661.6,393.4 664.5,380.1 667.4,387.1 670.3,391.3 673.2,381.9 676.1,393.1 679.0,392.1 681.9,385.2 684.8,391.7 687.7,389.2 690.6,398.0 693.5,390.3 696.4,401.1 699.3,399.0 702.2,396.8 705.1,398.7 708.0,398.6 710.9,403.1 713.8,395.6 716.7,403.6 719.6,394.4 722.5,397.0 725.4,401.5 728.3,410.0 731.2,397.8 734.1,409.9 737.0,407.1 739.9,401.0 742.8,398.3 745.7,408.0 748.6,400.6 751.5,409.8 754.4,396.0 757.3,401.6 760.2,404.7 763.1,402.7 766.0,398.4 768.9,403.4 771.8,406.5 774.7,402.8 777.6,400.1 780.5,408.9 783.4,406.0 786.3,406.1 789.2,399.9 792.1,406.4 795.0,413.3 797.9,407.0 800.8,408.3 803.7,405.4 806.6,402.6 809.5,412.4 812.4,401.5 815.3,412.0 818.2,410.7 821.1,408.8 824.0,406.2 826.9,407.8 829.8,411.3 832.7,404.6 835.6,409.1 838.5,410.0 841.4,411.4 842.4,413.3" fill="none" stroke="#333333" stroke-width="6.0" stroke-linejoin="round" stroke-linecap="round" clip-path="url(#c1)"/>
</g>
<g id="panel-b-curves">
<polyline points="113.5,851.1 114.0,850.0 114.5,855.1 115.0,850.0 115.5,850.6 116.0,853.3 116.5,848.5 117.0,849.0 117.5,850.4 118.0,849.3 118.5,847.6 119.0,849.4 119.5,849.0 120.0,850.7 120.5,846.4 121.0,848.1 121.5,851.5 122.0,852.7 122.5,846.3 123.0,850.3 123.5,847.1 124.0,847.3 124.5,847.2 125.0,847.9 125.5,850.5 126.0,849.9 126.5,848.6 127.0,847.7 127.5,848.3 128.0,848.0 128.5,849.6 129.0,846.8 129.5,847.9 130.0,847.6 130.5,847.6 131.0,848.1 131.5,847.9 132.0,850.0 132.5,847.2 133.0,850.2 133.5,846.6 134.0,846.2 134.5,847.2 135.0,847.6 135.5,847.3 136.0,849.2 136.5,848.8 137.0,847.5 137.5,845.8 138.0,846.2 138.5,849.0 139.0,846.6 139.5,843.7 140.0,844.7 140.5,844.9 141.0,848.0 141.5,845.6 142.0,849.9 142.5,846.8 143.0,845.7 143.5,844.6 144.0,847.2 144.5,844.8 145.0,843.6 145.5,846.1 146.0,845.0 146.5,847.1 147.0,844.6 147.5,839.8 148.0,846.0 148.5,840.9 149.0,847.2 149.5,847.6 150.0,843.3 150.5,841.8 151.0,841.3 151.5,845.4 152.0,843.3 152.5,842.4 153.0,843.0 153.5,847.1 154.0,843.8 154.5,844.3 155.0,844.2 155.5,844.5 156.0,844.5 156.5,841.1 157.0,841.8 157.5,840.7 158.0,840.6 158.5,843.8 159.0,840.7 159.5,841.3 160.0,840.0 160.5,840.1 161.0,842.4 161.5,840.0 162.0,839.8 162.5,841.4 163.0,841.3 163.5,841.6 164.0,840.4 164.5,836.7 165.0,840.9 165.5,840.5 166.0,841.4 166.5,837.8 167.0,843.8 167.5,836.8 168.0,840.3 168.5,838.9 169.0,837.8 169.5,840.1 170.0,837.9 170.5,834.0 171.0,836.0 171.5,838.9 172.0,842.0 172.5,835.1 173.0,837.6 173.5,840.2 174.0,838.5 174.5,836.5 175.0,834.5 175.5,833.7 176.0,835.4 176.5,836.0 177.0,832.4 177.5,833.3 178.0,836.7 178.5,835.3 179.0,834.5 179.5,835.0 180.0,834.1 180.5,837.0 181.0,838.1 181.5,838.7 182.0,836.1 182.5,836.0 183.0,837.1 183.5,837.4 184.0,836.7 184.5,836.1 185.0,832.6 185.5,830.7 186.0,834.9 186.5,833.0 187.0,832.9 187.5,831.3 188.0,830.4 188.5,835.0 189.0,833.2 189.5,830.3 190.0,832.7 190.5,832.4 191.0,832.6 191.5,835.6 192.0,831.3 192.5,828.9 193.0,831.2 193.5,829.8 194.0,831.8 194.5,831.1 195.0,831.2 195.5,829.4 196.0,831.0 196.5,829.2 197.0,830.9 197.5,829.3 198.0,827.6 198.5,830.4 199.0,828.1 199.5,831.8 200.0,829.8 200.5,829.7 201.0,828.9 201.5,828.4 202.0,824.1 202.5,830.3 203.0,826.5 203.5,829.3 204.0,826.3 204.5,826.9 205.0,826.5 205.5,824.8 206.0,825.9 206.5,826.6 207.0,824.8 207.5,823.1 208.0,823.8 208.5,824.8 209.0,825.9 209.5,825.1 210.0,823.9 210.5,821.5 211.0,824.4 211.5,822.6 212.0,821.9 212.5,823.8 213.0,823.1 213.5,822.8 214.0,819.6 214.5,820.5 215.0,818.3 215.5,821.7 216.0,821.2 216.5,822.8 217.0,821.4 217.5,820.2 218.0,824.9 218.5,818.8 219.0,818.1 219.5,819.6 220.0,821.9 220.5,820.3 221.0,820.2 221.5,819.0 222.0,824.0 222.5,820.2 223.0,819.5 223.5,821.4 224.0,820.2 224.5,821.4 225.0,824.4 225.5,821.1 226.0,821.9 226.5,821.3 227.0,821.7 227.5,823.7 228.0,823.1 228.5,821.4 229.0,820.3 229.5,821.9 230.0,823.8 230.5,822.1 231.0,821.9 231.5,818.6 232.0,824.2 232.5,819.3 233.0,819.7 233.5,821.5 234.0,822.3 234.5,822.4 235.0,820.8 235.5,821.7 236.0,821.1 236.5,818.7 237.0,821.8 237.5,821.0 238.0,823.2 238.5,822.1 239.0,824.3 239.5,823.8 240.0,824.2 240.5,824.9 241.0,823.9 241.5,822.2 242.0,825.2 242.5,820.8 243.0,822.6 243.5,824.4 244.0,822.2 244.5,824.2 245.0,821.3 245.5,821.8 246.0,824.0 246.5,824.4 247.0,825.3 247.5,822.9 248.0,823.7 248.5,824.3 249.0,824.1 249.5,820.6 250.0,822.0 250.5,826.1 251.0,820.7 251.5,824.5 252.0,822.4 252.5,825.0 253.0,821.6 253.5,822.9 254.0,819.1 254.5,822.3 255.0,823.9 255.5,819.4 256.0,823.2 256.5,819.9 257.0,820.4 257.5,816.7 258.0,819.6 258.5,816.1 259.0,814.2 259.5,811.1 260.0,808.1 260.5,805.5 261.0,798.3 261.5,787.9 262.0,774.3 262.5,760.1 263.0,742.8 263.5,722.4 264.0,701.8 264.5,682.4 265.0,660.7 265.5,640.4 266.0,628.7 266.5,630.4 267.0,645.2 267.5,668.1 268.0,692.1 268.5,712.3 269.0,734.8 269.5,755.7 270.0,770.2 270.5,779.0 271.0,786.0 271.5,792.8 272.0,795.9 272.5,797.8 273.0,800.1 273.5,802.2 274.0,803.2 274.5,804.0 275.0,804.9 275.5,800.2 276.0,802.2 276.5,803.3 277.0,801.7 277.5,799.3 278.0,798.1 278.5,798.3 279.0,795.2 279.5,793.0 280.0,792.5 280.5,788.1 281.0,785.5 281.5,781.3 282.0,777.0 282.5,771.4 283.0,765.1 283.5,758.9 284.0,750.7 284.5,742.9 285.0,733.7 285.5,725.3 286.0,717.2 286.5,709.2 287.0,702.3 287.5,693.3 288.0,683.5 288.5,671.6 289.0,658.9 289.5,644.0 290.0,625.5 290.5,604.4 291.0,579.5 291.5,552.4 292.0,525.9 292.5,510.1 293.0,525.8 293.5,552.4 294.0,579.4 294.5,604.3 295.0,624.8 295.5,642.9 296.0,660.9 296.5,677.8 297.0,694.2 297.5,709.0 298.0,721.9 298.5,733.2 299.0,743.7 299.5,754.1 300.0,761.9 300.5,770.4 301.0,776.7 301.5,782.3 302.0,788.8 302.5,792.8 303.0,796.9 303.5,801.5 304.0,805.8 304.5,808.6 305.0,811.7 305.5,815.1 306.0,816.5 306.5,819.0 307.0,820.7 307.5,821.6 308.0,824.5 308.5,827.8 309.0,826.2 309.5,830.7 310.0,831.1 310.5,831.2 311.0,833.5 311.5,836.6 312.0,834.9 312.5,837.5 313.0,838.8 313.5,836.9 314.0,839.6 314.5,840.1 315.0,839.3 315.5,841.5 316.0,840.5 316.5,840.7 317.0,840.2 317.5,843.1 318.0,842.3 318.5,842.5 319.0,842.0 319.5,842.1 320.0,843.3 320.5,846.1 321.0,844.0 321.5,848.0 322.0,846.6 322.5,846.5 323.0,844.5 323.5,850.1 324.0,844.7 324.5,848.2 325.0,850.5 325.5,847.5 326.0,847.0 326.5,848.3 327.0,850.2 327.5,851.2 328.0,850.1 328.5,847.4 329.0,848.3 329.5,850.1 330.0,847.7 330.5,849.7 331.0,854.2 331.5,848.6 332.0,852.7 332.5,849.2 333.0,850.4 333.5,851.0 334.0,848.6 334.5,851.3 335.0,854.0 335.5,853.1 336.0,853.2 336.5,850.6 337.0,851.9 337.5,852.7 338.0,853.7 338.5,855.0 339.0,850.9 339.5,855.9 340.0,852.4 340.5,852.6 341.0,851.0 341.5,853.2 342.0,853.1 342.5,851.3 343.0,853.2 343.5,854.1 344.0,853.2 344.5,855.5 345.0,852.2 345.5,855.9 346.0,853.9 346.5,855.0 347.0,850.8 347.5,854.7 348.0,854.3 348.5,856.3 349.0,852.1 349.5,857.2 350.0,852.4 350.5,857.0 351.0,855.5 351.5,852.9 352.0,858.4 352.5,851.9 353.0,853.8 353.5,854.4 354.0,854.9 354.5,854.2 355.0,855.1 355.5,854.4 356.0,853.5 356.5,851.6 357.0,852.6 357.5,854.8 358.0,850.8 358.5,853.1 359.0,848.9 359.5,851.4 360.0,849.5 360.5,854.9 361.0,849.0 361.5,852.0 362.0,853.8 362.5,853.5 363.0,853.7 363.5,854.2 364.0,853.0 364.5,853.7 365.0,851.9 365.5,851.9 366.0,848.5 366.5,852.2 367.0,854.2 367.5,850.3 368.0,849.4 368.5,851.8 369.0,853.8 369.5,853.9 370.0,848.6 370.5,852.3 371.0,850.1 371.5,851.9 372.0,846.9 372.5,853.1 373.0,850.4 373.5,851.6 374.0,850.8 374.5,849.1 375.0,852.1 375.5,850.1 376.0,849.7 376.5,852.3 377.0,850.9 377.5,849.6 378.0,852.9 378.5,849.8 379.0,850.9 379.5,852.5 380.0,852.9 380.5,853.4 381.0,854.3 381.5,851.2 382.0,849.5 382.5,854.4 383.0,853.9 383.5,850.6 384.0,852.6 384.5,850.6 385.0,848.4 385.5,853.4 386.0,852.2 386.5,851.8 387.0,854.9 387.5,854.4 388.0,850.6 388.5,849.8 389.0,848.3 389.5,852.0 390.0,851.4 390.5,852.9 391.0,852.3 391.5,851.1 392.0,851.7 392.5,849.6 393.0,854.9 393.5,851.7 394.0,854.0 394.5,851.7 395.0,853.1 395.5,854.3 396.0,852.6 396.5,851.7 397.0,857.7 397.5,853.1 398.0,854.6 398.5,853.5 399.0,852.4 399.5,856.3 400.0,854.8 400.5,854.8 401.0,850.2 401.5,855.0 402.0,856.2 402.5,855.3 403.0,854.7 403.5,857.3 404.0,855.8 404.5,856.6 405.0,857.6 405.5,857.7 406.0,853.7 406.5,856.8 407.0,855.0 407.5,853.0 408.0,857.3 408.5,853.8 409.0,856.2 409.5,852.7 410.0,855.5 410.5,856.7 411.0,857.6 411.5,856.8 412.0,856.2 412.5,856.3 413.0,861.0 413.5,857.3 414.0,858.1 414.5,862.0 415.0,855.1 415.5,854.5 416.0,856.6 416.5,857.8 417.0,856.4 417.5,858.6 418.0,858.6 418.5,855.8 419.0,859.2 419.5,856.1 420.0,860.3 420.5,859.4 421.0,863.3 421.5,860.7 422.0,858.7 422.5,859.9 423.0,859.5 423.5,857.8 424.0,856.5 424.5,861.5 425.0,862.3 425.5,858.5 426.0,858.9 426.5,858.5 427.0,861.5 427.5,861.9 428.0,857.9 428.5,858.9 429.0,858.6 429.5,860.1 430.0,861.2 430.5,861.8 431.0,859.1 431.5,857.7 432.0,860.8 432.5,860.9 433.0,859.0 433.5,860.0 434.0,860.4 434.5,861.4 435.0,859.8 435.5,860.6 436.0,860.0 436.5,857.7 437.0,861.0 437.5,859.8 438.0,861.6 438.5,857.2 439.0,858.1 439.5,860.1 440.0,856.1 440.5,859.1 441.0,858.5 441.5,858.5 442.0,858.8 442.5,854.9 443.0,859.3 443.5,859.3 444.0,861.1 444.5,861.8 445.0,859.7 445.5,860.7 446.0,854.3 446.5,859.9 447.0,860.9 447.5,860.4 448.0,859.2 448.5,858.0 449.0,857.9 449.5,858.6 450.0,859.3 450.5,859.5 451.0,858.2 451.5,855.9 452.0,861.7 452.5,856.5 453.0,853.2 453.5,860.7 454.0,859.9 454.5,858.2 455.0,859.6 455.5,858.5 456.0,856.0 456.5,857.7 457.0,855.1 457.5,856.0 458.0,855.5 458.5,857.3 459.0,858.9 459.5,855.6 460.0,857.5 460.5,852.6 461.0,854.4 461.5,857.3 462.0,857.9 462.5,857.8 463.0,857.9 463.5,852.8 464.0,854.7 464.5,850.8 465.0,855.1 465.5,855.7 466.0,854.5 466.5,853.3 467.0,855.7 467.5,855.8 468.0,854.9 468.5,853.4 469.0,854.5 469.5,854.5 470.0,854.7 470.5,855.2 471.0,853.9 471.5,851.2 472.0,853.2 472.5,854.3 473.0,852.6 473.5,853.7 474.0,851.9 474.5,855.5 475.0,853.7 475.5,853.1 476.0,854.1 476.5,853.9 477.0,852.6 477.5,854.1 478.0,853.4 478.5,852.4 479.0,851.9 479.5,849.7 480.0,852.0 480.5,851.9 481.0,849.9 481.5,853.8 482.0,851.2 482.5,849.1 483.0,850.2 483.5,850.8 484.0,850.7 484.5,849.2 485.0,850.6 485.5,847.7 486.0,849.5 486.5,851.0 487.0,848.8 487.5,851.2 488.0,851.3 488.5,848.6 489.0,845.2 489.5,851.1 490.0,851.9 490.5,846.3 491.0,849.5 491.5,849.6 492.0,845.9 492.5,847.8 493.0,851.1 493.5,849.1 494.0,848.6 494.5,850.7 495.0,847.3 495.5,844.9 496.0,850.9 496.5,846.7 497.0,848.2 497.5,850.4 498.0,848.7 498.5,848.4 499.0,846.9 499.5,849.2 500.0,852.5 500.5,846.9 501.0,845.8 501.5,848.7 502.0,846.6 502.5,848.3 503.0,848.1 503.5,849.1 504.0,848.5 504.5,848.7 505.0,850.6 505.5,846.2 506.0,848.2 506.5,848.7 507.0,845.7 507.5,846.2 508.0,847.4 508.5,847.0 509.0,850.3 509.5,848.4 510.0,853.2 510.5,847.4 511.0,847.5 511.5,852.6 512.0,847.0 512.5,852.5 513.0,842.8 513.5,846.8 514.0,850.9 514.5,851.3 515.0,849.0 515.5,846.8 516.0,847.8 516.5,849.4 517.0,848.5 517.5,849.5 518.0,846.3 518.5,848.9 519.0,849.5 519.5,851.3 520.0,848.0 520.5,847.7 521.0,844.8 521.5,843.7 522.0,841.9 522.5,846.0 523.0,848.1 523.5,844.4 524.0,840.2 524.5,844.1 525.0,843.0 525.5,842.4 526.0,844.9 526.5,843.4 527.0,842.9 527.5,839.2 528.0,839.7 528.5,836.9 529.0,838.4 529.5,834.7 530.0,836.0 530.5,833.6 531.0,832.3 531.5,829.2 532.0,829.9 532.5,825.9 533.0,824.9 533.5,823.4 534.0,823.9 534.5,820.1 535.0,817.1 535.5,815.4 536.0,813.7 536.5,809.0 537.0,805.0 537.5,800.3 538.0,795.0 538.5,789.3 539.0,782.0 539.5,774.8 540.0,766.6 540.5,758.5 541.0,751.1 541.5,742.3 542.0,733.9 542.5,725.6 543.0,719.6 543.5,712.5 544.0,707.4 544.5,706.4 545.0,706.5 545.5,712.6 546.0,719.5 546.5,725.9 547.0,733.1 547.5,741.6 548.0,750.1 548.5,757.1 549.0,765.3 549.5,772.2 550.0,779.3 550.5,785.9 551.0,792.2 551.5,798.7 552.0,804.2 552.5,806.4 553.0,811.8 553.5,814.9 554.0,818.9 554.5,820.0 555.0,823.3 555.5,826.6 556.0,828.5 556.5,831.1 557.0,830.8 557.5,832.4 558.0,835.1 558.5,834.4 559.0,837.5 559.5,839.3 560.0,839.8 560.5,838.8 561.0,840.7 561.5,841.9 562.0,843.6 562.5,844.2 563.0,844.0 563.5,842.8 564.0,843.2 564.5,844.8 565.0,845.3 565.5,846.4 566.0,846.2 566.5,848.0 567.0,847.7 567.5,849.4 568.0,849.4 568.5,850.7 569.0,848.6 569.5,849.0 570.0,848.9 570.5,851.2 571.0,852.5 571.5,853.5 572.0,852.0 572.5,851.7 573.0,853.4 573.5,852.3 574.0,850.8 574.5,854.0 575.0,852.1 575.5,850.4 576.0,852.9 576.5,851.8 577.0,853.4 577.5,852.3 578.0,853.1 578.5,852.7 579.0,853.7 579.5,855.1 580.0,854.6 580.5,854.3 581.0,856.3 581.5,851.9 582.0,854.8 582.5,856.8 583.0,855.7 583.5,856.9 584.0,853.1 584.5,857.1 585.0,853.6 585.5,857.2 586.0,855.6 586.5,856.8 587.0,853.8 587.5,854.9 588.0,851.9 588.5,856.1 589.0,856.9 589.5,856.3 590.0,857.8 590.5,856.9 591.0,856.1 591.5,857.0 592.0,855.0 592.5,857.9 593.0,856.7 593.5,856.9 594.0,856.1 594.5,855.4 595.0,854.8 595.5,856.2 596.0,858.1 596.5,853.6 597.0,857.2 597.5,861.8 598.0,857.6 598.5,857.0 599.0,858.2 599.5,857.3 600.0,857.8 600.5,858.0 601.0,856.0 601.5,860.2 602.0,858.4 602.5,860.2 603.0,858.5 603.5,860.3 604.0,858.4 604.5,863.1 605.0,860.7 605.5,861.1 606.0,858.4 606.5,855.6 607.0,858.0 607.5,859.7 608.0,859.0 608.5,857.6 609.0,857.2 609.5,856.3 610.0,857.8 610.5,859.9 611.0,860.0 611.5,859.9 612.0,858.2 612.5,858.9 613.0,858.5 613.5,859.3 614.0,859.0 614.5,859.6 615.0,858.1 615.5,858.2 616.0,860.9 616.5,860.7 617.0,854.1 617.5,858.7 618.0,858.7 618.5,859.5 619.0,853.8 619.5,854.5 620.0,856.8 620.5,857.8 621.0,855.3 621.5,859.5 622.0,859.3 622.5,858.5 623.0,858.8 623.5,854.9 624.0,856.8 624.5,852.6 625.0,858.7 625.5,858.9 626.0,857.4 626.5,854.7 627.0,856.5 627.5,858.0 628.0,854.0 628.5,856.4 629.0,857.1 629.5,854.3 630.0,854.5 630.5,857.4 631.0,856.4 631.5,857.3 632.0,855.2 632.5,852.8 633.0,854.1 633.5,852.9 634.0,853.3 634.5,854.3 635.0,855.6 635.5,853.0 636.0,854.9 636.5,849.9 637.0,850.8 637.5,850.4 638.0,846.8 638.5,846.8 639.0,847.9 639.5,848.0 640.0,848.0 640.5,847.2 641.0,846.3 641.5,844.3 642.0,847.1 642.5,849.9 643.0,848.2 643.5,846.6 644.0,848.3 644.5,849.0 645.0,850.7 645.5,847.2 646.0,848.7 646.5,848.3 647.0,846.5 647.5,846.2 648.0,845.2 648.5,845.1 649.0,844.6 649.5,841.9 650.0,842.0 650.5,842.3 651.0,839.4 651.5,836.1 652.0,837.4 652.5,834.0 653.0,832.2 653.5,830.1 654.0,827.0 654.5,823.9 655.0,821.2 655.5,818.8 656.0,815.1 656.5,811.0 657.0,808.0 657.5,802.8 658.0,798.9 658.5,794.6 659.0,788.3 659.5,782.6 660.0,778.0 660.5,775.0 661.0,777.1 661.5,775.6 662.0,777.5 662.5,781.5 663.0,787.1 663.5,792.7 664.0,796.5 664.5,801.7 665.0,805.2 665.5,809.3 666.0,813.3 666.5,816.8 667.0,820.3 667.5,824.5 668.0,825.9 668.5,829.4 669.0,832.4 669.5,834.2 670.0,836.9 670.5,838.2 671.0,841.7 671.5,843.4 672.0,843.2 672.5,847.4 673.0,846.5 673.5,846.8 674.0,848.1 674.5,851.7 675.0,849.2 675.5,852.7 676.0,853.8 676.5,855.4 677.0,854.0 677.5,856.7 678.0,854.8 678.5,857.2 679.0,854.6 679.5,857.0 680.0,856.4 680.5,857.5 681.0,861.1 681.5,857.7 682.0,858.0 682.5,858.3 683.0,858.9 683.5,854.4 684.0,859.9 684.5,856.2 685.0,855.0 685.5,859.0 686.0,856.7 686.5,859.5 687.0,861.2 687.5,859.3 688.0,857.4 688.5,859.6 689.0,863.3 689.5,859.7 690.0,863.0 690.5,862.5 691.0,857.5 691.5,861.6 692.0,857.4 692.5,861.1 693.0,861.1 693.5,859.7 694.0,857.1 694.5,859.5 695.0,859.6 695.5,861.2 696.0,860.2 696.5,861.4 697.0,859.8 697.5,857.4 698.0,860.5 698.5,863.3 699.0,858.9 699.5,858.7 700.0,856.9 700.5,864.3 701.0,858.7 701.5,862.9 702.0,861.1 702.5,860.6 703.0,861.1 703.5,864.6 704.0,864.3 704.5,862.0 705.0,860.2 705.5,863.9 706.0,862.5 706.5,861.4 707.0,862.2 707.5,859.8 708.0,862.7 708.5,860.8 709.0,860.9 709.5,859.1 710.0,861.6 710.5,862.3 711.0,858.6 711.5,862.1 712.0,862.4 712.5,864.1 713.0,863.8 713.5,860.4 714.0,864.0 714.5,862.6 715.0,861.2 715.5,860.2 716.0,863.5 716.5,863.3 717.0,860.8 717.5,862.4 718.0,861.0 718.5,860.3 719.0,860.0 719.5,863.1 720.0,862.5 720.5,862.6 721.0,862.4 721.5,862.1 722.0,863.8 722.5,858.8 723.0,863.6 723.5,859.8 724.0,861.7 724.5,862.3 725.0,862.1 725.5,863.0 726.0,860.4 726.5,865.4 727.0,864.3 727.5,863.2 728.0,863.6 728.5,861.5 729.0,858.9 729.5,859.3 730.0,863.2 730.5,857.2 731.0,865.4 731.5,863.2 732.0,860.6 732.5,861.4 733.0,859.3 733.5,862.3 734.0,863.2 734.5,864.9 735.0,860.1 735.5,864.7 736.0,863.0 736.5,862.5 737.0,862.7 737.5,863.4 738.0,866.3 738.5,865.6 739.0,864.4 739.5,861.4 740.0,862.4 740.5,864.6 741.0,863.6 741.5,861.4 742.0,866.5 742.5,867.6 743.0,864.0 743.5,862.3 744.0,863.1 744.5,861.1 745.0,860.8 745.5,863.8 746.0,862.7 746.5,865.0 747.0,868.3 747.5,864.2 748.0,863.3 748.5,863.6 749.0,864.2 749.5,866.2 750.0,863.7 750.5,865.1 751.0,861.4 751.5,861.6 752.0,863.1 752.5,865.3 753.0,861.7 753.5,866.1 754.0,861.8 754.5,864.0 755.0,863.5 755.5,866.7 756.0,861.8 756.5,862.0 757.0,863.2 757.5,865.1 758.0,865.1 758.5,861.3 759.0,862.2 759.5,861.3 760.0,867.1 760.5,864.6 761.0,865.1 761.5,859.6 762.0,864.3 762.5,863.4 763.0,865.8 763.5,860.7 764.0,866.7 764.5,865.3 765.0,865.2 765.5,861.6 766.0,867.9 766.5,864.6 767.0,864.7 767.5,864.2 768.0,863.6 768.5,864.5 769.0,864.5 769.5,866.4 770.0,865.3 770.5,862.8 771.0,864.6 771.5,866.2 772.0,863.0 772.5,864.1 773.0,866.5 773.5,865.1 774.0,863.3 774.5,865.5 775.0,866.2 775.5,865.7 776.0,864.7 776.5,868.0 777.0,861.6 777.5,865.0 778.0,865.6 778.5,862.5 779.0,862.8 779.5,862.9 780.0,864.6 780.5,864.1 781.0,865.3 781.5,866.7 782.0,863.0 782.5,864.4 783.0,865.0 783.5,860.3 784.0,863.7 784.5,860.7 785.0,862.5 785.5,862.2 786.0,866.2 786.5,862.8 787.0,862.7 787.5,865.4 788.0,863.7 788.5,861.2 789.0,866.1 789.5,865.8 790.0,863.2 790.5,860.6 791.0,862.5 791.5,862.0 792.0,866.9 792.5,862.4 793.0,865.3 793.5,866.2 794.0,864.3 794.5,864.3 795.0,866.2 795.5,865.2 796.0,860.6 796.5,865.6 797.0,859.3 797.5,862.2 798.0,865.1 798.5,859.9 799.0,865.5 799.5,867.7 800.0,863.0 800.5,859.8 801.0,866.6 801.5,861.4 802.0,860.8 802.5,861.0 803.0,862.1 803.5,861.8 804.0,866.9 804.5,861.2 805.0,859.7 805.5,859.9 806.0,862.1 806.5,866.2 807.0,860.2 807.5,862.5 808.0,864.2 808.5,862.2 809.0,862.2 809.5,861.9 810.0,863.3 810.5,861.2 811.0,865.4 811.5,859.1 812.0,864.3 812.5,864.5 813.0,862.4 813.5,861.7 814.0,864.6 814.5,860.3 815.0,861.6 815.5,860.3 816.0,862.4 816.5,860.1 817.0,860.5 817.5,862.9 818.0,861.5 818.5,861.9 819.0,864.3 819.5,857.6 820.0,860.0 820.5,861.0 821.0,863.4 821.5,858.7 822.0,860.3 822.5,861.1 823.0,858.2 823.5,858.9 824.0,859.1 824.5,857.9 825.0,859.1 825.5,859.0 826.0,856.6 826.5,857.7 827.0,856.9 827.5,855.7 828.0,854.1 828.5,857.3 829.0,852.7 829.5,854.3 830.0,854.6 830.5,849.2 831.0,851.4 831.5,849.0 832.0,851.0 832.5,851.9 833.0,849.4 833.5,850.4 834.0,851.4 834.5,848.6 835.0,849.6 835.5,848.6 836.0,851.5 836.5,850.8 837.0,853.8 837.5,854.1 838.0,851.2 838.5,854.0 839.0,854.7 839.5,855.2 840.0,856.1 840.5,855.7 841.0,858.0 841.5,858.0 842.0,858.2 842.5,857.3 843.0,860.3 843.5,857.1 844.0,861.2 844.5,861.0 845.0,859.3 845.5,861.7 846.0,865.2 846.5,861.7 847.0,860.8 847.5,862.3 848.0,863.2 848.5,865.5 849.0,862.0 849.5,864.2 850.0,862.9 850.5,864.9 851.0,863.4 851.5,860.8 852.0,864.2 852.5,865.0 853.0,862.5 853.5,859.0 854.0,861.3 854.5,863.1 855.0,864.5 855.5,862.2 856.0,865.2 856.5,862.2 857.0,860.6 857.5,864.2 858.0,862.0 858.5,866.0 859.0,865.6 859.5,862.7 860.0,862.3 860.5,864.0 861.0,865.8 861.5,863.8 862.0,863.4 862.5,865.8 863.0,865.0 863.5,862.4 864.0,862.4 864.5,859.5 865.0,863.3 865.5,863.0 866.0,864.7 866.5,862.5 867.0,863.0 867.5,863.1 868.0,862.8 868.5,863.3 869.0,862.7 869.5,866.2 870.0,863.6 870.5,864.7 871.0,864.7 871.5,861.9 872.0,860.0 872.5,861.7 873.0,863.3 873.5,864.0 874.0,861.3 874.5,865.3 875.0,863.4 875.5,865.6 876.0,862.2 876.5,859.1 877.0,865.2 877.5,865.0 878.0,868.6 878.5,864.4 879.0,864.8 879.5,867.6 880.0,859.3 880.5,861.5 881.0,860.6 881.5,865.0 882.0,863.9 882.5,865.5 883.0,861.4 883.5,863.1 884.0,864.5 884.5,864.2 885.0,864.0 885.5,866.7 886.0,863.3 886.5,863.8 887.0,863.8 887.5,866.0 888.0,862.9 888.5,862.9 889.0,863.0 889.5,861.7 890.0,864.5 890.5,863.7 891.0,861.0 891.5,863.9 892.0,865.1 892.5,868.1 893.0,864.9 893.5,867.8 894.0,865.5 894.5,867.7 895.0,862.7 895.5,862.4 896.0,864.6 896.5,864.5 897.0,865.1 897.5,865.9 898.0,862.7 898.5,865.4 899.0,863.9 899.5,868.7 900.0,864.5 900.5,863.9 901.0,868.2 901.5,861.7 902.0,867.9 902.5,865.3 903.0,863.8 903.5,863.7 904.0,864.5 904.5,865.0 905.0,862.9 905.5,864.9 906.0,865.5 906.5,864.1 907.0,866.8 907.5,862.2 908.0,864.0 908.5,865.3 909.0,864.2 909.5,865.8 910.0,864.7 910.5,860.9 911.0,864.9 911.5,861.3 912.0,863.9 912.5,861.8 913.0,863.3 913.5,857.2 914.0,862.0 914.5,860.3 915.0,862.7 915.5,862.4 916.0,861.7 916.5,859.0 917.0,858.9 917.5,857.1 918.0,857.9 918.5,857.7 919.0,857.9 919.5,858.6 920.0,854.8 920.5,855.8 921.0,855.9 921.5,854.2 922.0,851.4 922.5,852.6 923.0,851.8 923.5,850.4 924.0,851.5 924.5,850.0 925.0,849.4 925.5,849.1 926.0,848.0 926.5,848.0 927.0,847.2 927.5,846.0 928.0,845.6 928.5,845.2 929.0,842.9 929.5,843.8 930.0,843.5 930.5,840.9 931.0,843.0 931.5,841.7 932.0,841.7 932.5,843.9 933.0,840.9 933.5,844.4 934.0,843.9 934.5,846.0 935.0,844.5 935.5,849.0 936.0,850.3 936.5,847.8 937.0,852.1 937.5,849.5 938.0,850.6 938.5,849.6 939.0,852.4 939.5,851.5 940.0,852.2 940.5,853.0 941.0,851.5 941.5,854.4 942.0,853.5 942.5,856.4 943.0,854.5 943.5,855.8 944.0,856.0 944.5,857.6 945.0,858.3 945.5,856.5 946.0,855.3 946.5,857.1 947.0,857.0 947.5,859.0 948.0,857.9 948.5,859.2 949.0,859.4 949.5,859.8 950.0,858.2 950.5,861.8 951.0,859.6 951.5,857.9 952.0,859.6 952.5,860.4 953.0,860.5 953.5,862.1 954.0,860.5 954.5,862.0 955.0,863.5 955.5,860.3 956.0,860.8 956.5,864.8 957.0,863.1 957.5,864.0 958.0,862.2 958.5,862.6 959.0,862.5 959.5,861.3 960.0,864.9 960.5,860.8 961.0,861.7 961.5,860.9 962.0,866.6 962.5,861.5 963.0,865.4 963.5,860.6 964.0,867.2 964.5,868.2 965.0,863.2 965.5,866.3 966.0,860.8 966.5,862.5 967.0,865.9 967.5,863.6 968.0,862.4 968.5,863.5 969.0,862.2 969.5,862.0 970.0,865.2 970.5,859.6 971.0,862.2 971.5,863.3 972.0,865.1 972.5,863.6 973.0,862.4 973.5,858.9 974.0,868.5 974.5,861.7 975.0,864.5 975.5,860.7 976.0,864.8 976.5,860.3 977.0,861.8 977.5,863.1" fill="none" stroke="#8da0cb" stroke-width="5.2" stroke-linejoin="round" stroke-linecap="round" clip-path="url(#c2)"/>
<polyline points="113.5,849.5 115.1,850.8 116.7,848.4 118.3,845.4 119.9,845.0 121.5,849.5 123.1,854.4 124.7,854.1 126.3,853.0 127.9,851.5 129.5,849.2 131.1,850.3 132.7,850.3 134.3,847.3 135.9,848.2 137.5,848.0 139.1,849.1 140.7,849.4 142.3,848.3 143.9,848.0 145.5,849.0 147.1,848.4 148.7,846.6 150.3,847.3 151.9,845.6 153.5,844.5 155.1,845.7 156.7,846.3 158.3,845.4 159.9,843.4 161.5,844.0 163.1,844.3 164.7,842.8 166.3,843.4 167.9,843.6 169.5,843.2 171.1,844.1 172.7,843.7 174.3,842.5 175.9,843.5 177.5,842.8 179.1,842.6 180.7,842.3 182.3,841.3 183.9,840.0 185.5,839.2 187.1,839.4 188.7,838.8 190.3,835.1 191.9,834.1 193.5,833.5 195.1,830.7 196.7,830.9 198.3,830.2 199.9,830.2 201.5,831.0 203.1,828.6 204.7,826.1 206.3,826.6 207.9,828.9 209.5,828.3 211.1,828.5 212.7,828.5 214.3,827.0 215.9,825.7 217.5,824.7 219.1,823.7 220.7,821.3 222.3,821.6 223.9,821.4 225.5,818.9 227.1,818.9 228.7,818.3 230.3,816.8 231.9,816.5 233.5,814.9 235.1,815.2 236.7,816.1 238.3,813.8 239.9,814.0 241.5,814.6 243.1,812.5 244.7,812.0 246.3,812.6 247.9,812.6 249.5,812.9 251.1,813.2 252.7,811.9 254.3,812.1 255.9,812.8 257.5,806.7 259.1,795.5 260.7,774.8 262.3,744.9 263.9,702.9 265.5,657.5 267.1,703.2 268.7,756.1 270.3,807.9 271.9,825.1 273.5,829.8 275.1,832.4 276.7,833.4 278.3,833.8 279.9,834.6 281.5,836.5 283.1,837.1 284.7,838.3 286.3,841.6 287.9,845.1 289.5,845.5 291.1,845.5 292.7,848.6 294.3,849.4 295.9,849.1 297.5,850.9 299.1,851.7 300.7,850.6 302.3,850.6 303.9,849.7 305.5,847.7 307.1,850.5 308.7,854.8 310.3,853.7 311.9,851.6 313.5,851.7 315.1,853.6 316.7,856.2 318.3,857.4 319.9,858.8 321.5,859.9 323.1,858.4 324.7,857.6 326.3,860.2 327.9,860.3 329.5,860.5 331.1,862.9 332.7,860.4 334.3,859.4 335.9,860.8 337.5,861.6 339.1,861.7 340.7,863.0 342.3,863.8 343.9,861.5 345.5,860.2 347.1,859.7 348.7,859.4 350.3,860.4 351.9,858.5 353.5,858.3 355.1,860.1 356.7,859.4 358.3,857.9 359.9,857.2 361.5,857.2 363.1,856.6 364.7,854.4 366.3,852.8 367.9,854.0 369.5,853.3 371.1,851.7 372.7,853.7 374.3,857.7 375.9,857.6 377.5,855.5 379.1,855.1 380.7,855.3 382.3,855.9 383.9,854.6 385.5,854.9 387.1,856.9 388.7,856.6 390.3,856.8 391.9,858.9 393.5,860.0 395.1,859.4 396.7,860.8 398.3,862.2 399.9,861.0 401.5,859.2 403.1,859.4 404.7,861.6 406.3,861.7 407.9,861.6 409.5,862.7 411.1,862.3 412.7,861.1 414.3,858.8 415.9,857.1 417.5,859.4 419.1,858.9 420.7,860.3 422.3,861.4 423.9,860.6 425.5,863.2 427.1,861.5 428.7,860.6 430.3,861.7 431.9,859.4 433.5,860.9 435.1,862.2 436.7,862.9 438.3,862.7 439.9,861.7 441.5,860.7 443.1,861.5 444.7,860.6 446.3,861.2 447.9,864.1 449.5,865.1 451.1,866.6 452.7,863.2 454.3,862.1 455.9,862.0 457.5,860.4 459.1,860.7 460.7,860.5 462.3,859.6 463.9,858.6 465.5,857.9 467.1,856.5 468.7,855.3 470.3,856.4 471.9,855.5 473.5,854.0 475.1,855.1 476.7,854.9 478.3,853.1 479.9,852.4 481.5,852.8 483.1,851.2 484.7,848.0 486.3,849.1 487.9,850.3 489.5,850.6 491.1,851.5 492.7,851.4 494.3,851.9 495.9,853.0 497.5,851.7 499.1,851.8 500.7,853.4 502.3,852.2 503.9,850.9 505.5,852.7 507.1,853.0 508.7,853.1 510.3,854.9 511.9,856.4 513.5,857.7 515.1,858.3 516.7,856.4 518.3,857.5 519.9,860.7 521.5,859.0 523.1,858.5 524.7,859.1 526.3,858.3 527.9,858.4 529.5,860.6 531.1,860.6 532.7,859.0 534.3,860.7 535.9,859.9 537.5,859.2 539.1,860.1 540.7,862.4 542.3,861.2 543.9,859.5 545.5,861.3 547.1,861.2 548.7,862.5 550.3,863.0 551.9,861.3 553.5,862.3 555.1,864.2 556.7,862.7 558.3,862.5 559.9,864.3 561.5,863.5 563.1,862.2 564.7,863.3 566.3,865.0 567.9,863.3 569.5,862.3 571.1,865.2 572.7,865.3 574.3,861.5 575.9,862.0 577.5,864.5 579.1,865.7 580.7,865.2 582.3,866.7 583.9,866.7 585.5,864.9 587.1,866.8 588.7,866.8 590.3,863.0 591.9,863.8 593.5,866.9 595.1,865.4 596.7,866.4 598.3,868.5 599.9,866.6 601.5,863.6 603.1,862.1 604.7,863.6 606.3,865.0 607.9,865.1 609.5,862.7 611.1,862.8 612.7,864.3 614.3,863.8 615.9,867.6 617.5,867.9 619.1,866.5 620.7,866.8 622.3,866.4 623.9,866.0 625.5,864.9 627.1,865.8 628.7,864.4 630.3,862.5 631.9,863.6 633.5,863.7 635.1,863.5 636.7,861.9 638.3,859.8 639.9,860.8 641.5,862.5 643.1,864.5 644.7,866.1 646.3,865.7 647.9,865.5 649.5,863.8 651.1,864.7 652.7,866.0 654.3,866.8 655.9,866.7 657.5,868.9 659.1,869.8 660.7,866.0 662.3,865.9 663.9,868.8 665.5,869.1 667.1,866.5 668.7,865.9 670.3,867.9 671.9,870.2 673.5,868.6 675.1,868.6 676.7,868.7 678.3,869.4 679.9,870.1 681.5,866.3 683.1,866.3 684.7,867.7 686.3,869.0 687.9,870.3 689.5,870.1 691.1,867.7 692.7,867.1 694.3,867.8 695.9,867.7 697.5,867.5 699.1,866.4 700.7,869.3 702.3,869.6 703.9,864.8 705.5,864.5 707.1,867.6 708.7,868.7 710.3,866.3 711.9,867.0 713.5,870.5 715.1,867.9 716.7,865.6 718.3,868.1 719.9,869.5 721.5,869.2 723.1,869.1 724.7,867.7 726.3,868.4 727.9,868.8 729.5,864.9 731.1,866.1 732.7,868.4 734.3,867.2 735.9,866.6 737.5,868.2 739.1,868.3 740.7,867.1 742.3,868.6 743.9,870.1 745.5,868.0 747.1,867.3 748.7,867.7 750.3,868.0 751.9,869.7 753.5,870.6 755.1,869.3 756.7,868.6 758.3,868.2 759.9,868.9 761.5,870.2 763.1,869.0 764.7,869.2 766.3,867.6 767.9,866.1 769.5,868.2 771.1,870.8 772.7,870.3 774.3,869.3 775.9,871.3 777.5,870.2 779.1,869.4 780.7,869.6 782.3,871.6 783.9,872.5 785.5,871.0 787.1,870.0 788.7,869.3 790.3,869.5 791.9,870.7 793.5,869.8 795.1,870.6 796.7,872.3 798.3,870.7 799.9,869.6 801.5,869.3 803.1,870.3 804.7,869.9 806.3,870.2 807.9,868.6 809.5,865.9 811.1,868.4 812.7,869.8 814.3,870.0 815.9,870.3 817.5,869.3 819.1,873.6 820.7,876.0 822.3,873.3 823.9,870.7 825.5,871.7 827.1,869.7 828.7,870.2 830.3,871.9 831.9,869.2 833.5,869.9 835.1,870.2 836.7,869.2 838.3,870.9 839.9,871.7 841.5,869.7 843.1,870.2 843.9,870.7" fill="none" stroke="#333333" stroke-width="5.4" stroke-linejoin="round" stroke-linecap="round" clip-path="url(#c2)"/>
</g>
<g id="ytick-labels" font-size="36" text-anchor="end">
<text x="101.5" y="28.0">100</text>
<text x="101.5" y="114.4">80</text>
<text x="101.5" y="200.7">60</text>
<text x="101.5" y="287.1">40</text>
<text x="101.5" y="373.4">20</text>
<text x="101.5" y="459.8">500</text>
<text x="101.5" y="546.2">400</text>
<text x="101.5" y="632.5">300</text>
<text x="101.5" y="718.9">200</text>
<text x="101.5" y="805.2">100</text>
<text x="101.5" y="891.6">0</text>
</g>
<g id="xtick-labels" font-size="36" text-anchor="middle">
<text x="179.1" y="923">20</text>
<text x="312.0" y="923">30</text>
<text x="444.9" y="923">40</text>
<text x="577.8" y="923">50</text>
<text x="710.6" y="923">60</text>
<text x="843.5" y="923">70</text>
<text x="976.4" y="923">80</text>
</g>
<text id="xlabel" x="544.5" y="964" font-size="36" text-anchor="middle">2θ (Degree)</text>
<text id="ylabel-a" transform="translate(29.5 353.2) rotate(-90)" font-size="36.3" textLength="237.5" lengthAdjust="spacingAndGlyphs">Intensity (a.u.)</text>
<text id="ylabel-b" transform="translate(28 779) rotate(-90)" font-size="33.8" textLength="230.5" lengthAdjust="spacingAndGlyphs">Intensity (a.u.)</text>
<text id="tag-a" x="151.3" y="98.6" font-size="52" font-weight="bold" textLength="58.5" lengthAdjust="spacingAndGlyphs">(a)</text>
<text id="tag-b" x="151.3" y="548.4" font-size="52" font-weight="bold" textLength="62.5" lengthAdjust="spacingAndGlyphs">(b)</text>
<g id="legend-a" font-size="36.2">
<line x1="588.6" y1="66.3" x2="689.8" y2="66.3" stroke="#fc8d62" stroke-width="4.8" stroke-linecap="round"/>
<line x1="588.6" y1="111.3" x2="689.8" y2="111.3" stroke="#333333" stroke-width="4.8" stroke-linecap="round"/>
<text x="700.5" y="77.4">Si/C_1</text>
<text x="701.6" y="122.9">Washed Si/C_1</text>
</g>
<g id="legend-b" font-size="36.15">
<line x1="591.7" y1="500.4" x2="694.3" y2="500.4" stroke="#8da0cb" stroke-width="4.8" stroke-linecap="round"/>
<line x1="591.7" y1="546.3" x2="694.3" y2="546.3" stroke="#333333" stroke-width="4.8" stroke-linecap="round"/>
<text x="703.2" y="511.8" font-size="35.9">Si/C_2</text>
<text x="704.4" y="557.9">Washed Si/C_2</text>
</g>
</svg></body></html>
